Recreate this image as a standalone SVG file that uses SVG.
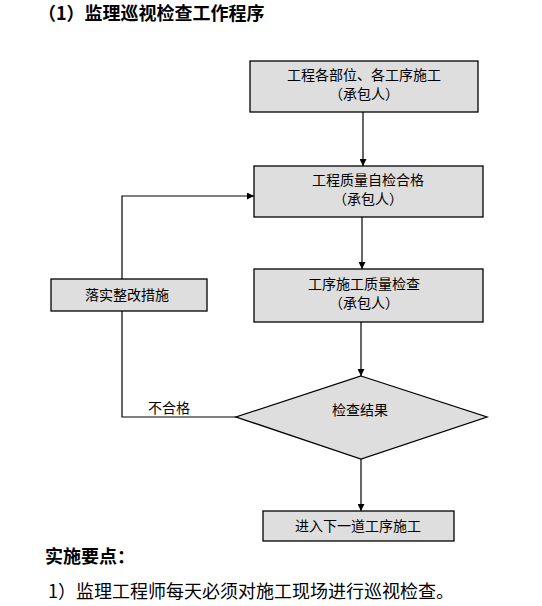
<svg xmlns="http://www.w3.org/2000/svg" width="542" height="606" viewBox="0 0 542 606">
<style>
text{text-spacing-trim:space-all;font-feature-settings:"halt" 0,"chws" 0}
.box{fill:#dedede;stroke:#000;stroke-width:1.3}
.t{font-family:"Noto Sans CJK SC","Liberation Sans",sans-serif;font-size:14px;text-anchor:middle;fill:#000}
.c{fill:none;stroke:#000;stroke-width:1.2}
.h{font-family:"Noto Sans CJK SC","Liberation Serif",serif;font-weight:bold;fill:#000}
.p{font-family:"Noto Sans CJK SC","Liberation Serif",serif;fill:#000}
</style>
<defs>
<marker id="a" viewBox="0 0 10 10" refX="10" refY="5" markerWidth="7" markerHeight="7" markerUnits="userSpaceOnUse" orient="auto">
<path d="M0,0 L10,5 L0,10 z" fill="#000"/>
</marker>
</defs>
<text class="h" x="38" y="20" font-size="18">（1）监理巡视检查工作程序</text>
<g id="connectors">
<line class="c" x1="363" y1="112" x2="363" y2="166" marker-end="url(#a)"/>
<line class="c" x1="362" y1="217" x2="362" y2="269" marker-end="url(#a)"/>
<line class="c" x1="361" y1="322" x2="361" y2="376" marker-end="url(#a)"/>
<line class="c" x1="361" y1="459" x2="361" y2="511" marker-end="url(#a)"/>
<polyline class="c" points="236,417 122,417 122,196 254,196" marker-end="url(#a)"/>
<text class="t" x="169" y="413" font-size="15">不合格</text>
</g>
<g id="n1">
<rect class="box" x="250" y="61" width="228" height="51"/>
<text class="t" x="364" y="80">工程各部位、各工序施工</text>
<text class="t" x="364" y="99">（承包人）</text>
</g>
<g id="n2">
<rect class="box" x="254" y="166" width="229" height="51"/>
<text class="t" x="368" y="185">工程质量自检合格</text>
<text class="t" x="368" y="204">（承包人）</text>
</g>
<g id="n3">
<rect class="box" x="254" y="269" width="229" height="53"/>
<text class="t" x="364" y="289">工序施工质量检查</text>
<text class="t" x="364" y="308">（承包人）</text>
</g>
<g id="n4">
<rect class="box" x="51" y="279" width="156" height="32"/>
<text class="t" x="127" y="300">落实整改措施</text>
</g>
<g id="n5">
<polygon class="box" points="361,376 487,417 361,459 236,417"/>
<text class="t" x="360" y="415">检查结果</text>
</g>
<g id="n6">
<rect class="box" x="263" y="511" width="191" height="30"/>
<text class="t" x="358" y="531">进入下一道工序施工</text>
</g>
<text class="h" x="45" y="563" font-size="18">实施要点：</text>
<text class="p" x="48" y="598" font-size="18">1）监理工程师每天必须对施工现场进行巡视检查。</text>
</svg>
